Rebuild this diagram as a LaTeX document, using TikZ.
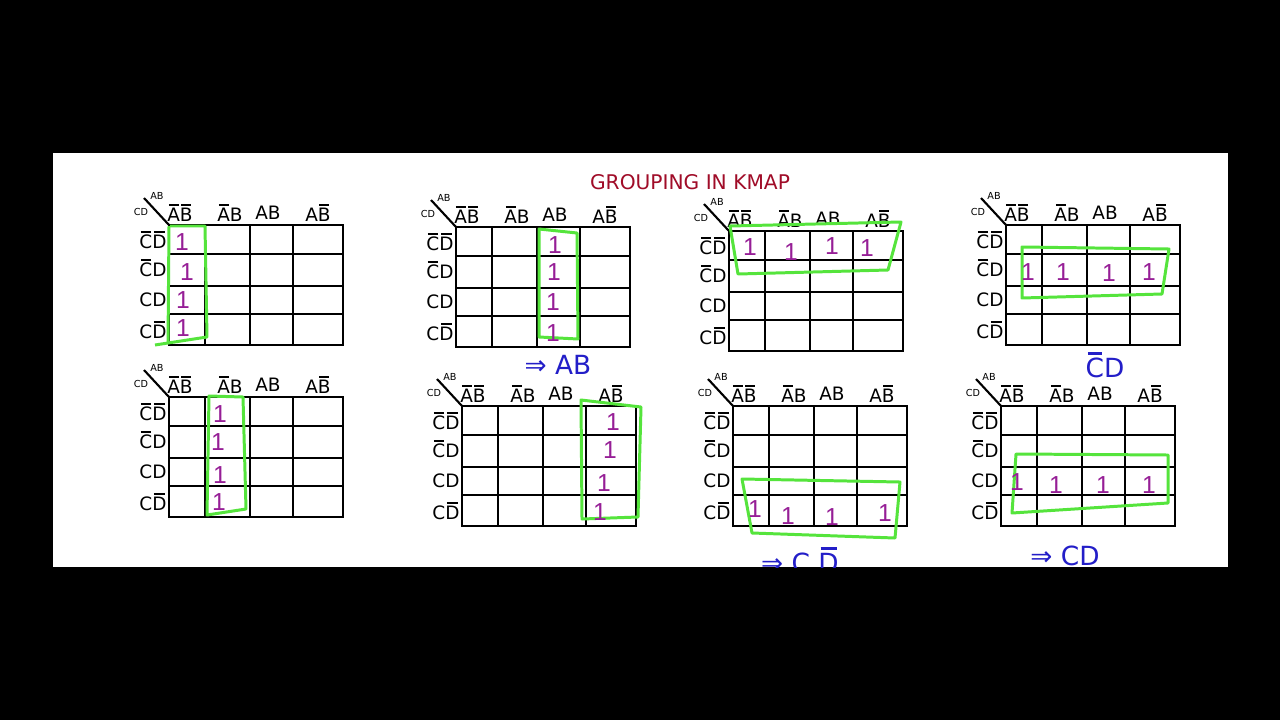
\documentclass[tikz,border=0pt]{standalone}
\usepackage{fontspec}
\setmainfont{DejaVu Sans}
\newfontfamily\handfont{Liberation Sans}
\definecolor{kred}{RGB}{160,12,40}
\definecolor{kgreen}{RGB}{85,228,60}
\definecolor{kpurple}{RGB}{150,30,150}
\definecolor{kblue}{RGB}{35,30,200}
% letter with a bar over it
\newcommand\nt[1]{\setbox0\hbox{#1}\rlap{\kern0.08em\rule[\dimexpr\ht0+0.12em\relax]{\dimexpr\wd0-0.16em\relax}{0.1em}}\box0}
\tikzset{
  kgrid/.style={line width=1.2pt},
  grp/.style={draw=kgreen, line width=1.7pt, line join=round},
  one/.style={text=kpurple, font=\handfont\fontsize{14}{14}\selectfont, inner sep=0pt},
  hdr/.style={font=\fontsize{10.5}{12}\selectfont, inner sep=0pt},
  corner/.style={font=\fontsize{5.5}{6}\selectfont, inner sep=0pt},
  note/.style={text=kblue, font=\fontsize{15}{16}\selectfont, inner sep=0pt}
}
\begin{document}
\begin{tikzpicture}[x=0.02cm,y=-0.02cm]
\fill[black] (0,0) rectangle (1280,720);
\fill[white] (53,153) rectangle (1228,567);
\useasboundingbox (0,0) rectangle (1280,720);
\node[text=kred, font=\fontsize{11.5}{12}\selectfont] (title) at (690,182) {GROUPING IN KMAP};

%the eight maps
\foreach \m/\x/\y in {1/169/225, 2/456/227, 3/729/231, 4/1006/225, 5/169/397, 6/462/406, 7/733/406, 8/1001/406}{
  \begin{scope}[shift={(\x,\y)}]
    \draw[kgrid] (0,0) rectangle (174,120);
    \foreach \c in {36,81,124} \draw[kgrid] (\c,0) -- (\c,120);
    \foreach \r in {29,61,89} \draw[kgrid] (0,\r) -- (174,\r);
    \node[corner] (ab\m) at (-12,-29) {AB};
    \node[corner] (cd\m) at (-28,-13) {CD};
    \coordinate (k\m) at (0,0);
    \draw[kgrid] (-25,-27) -- (k\m);
    %columns
    \node[hdr] (c\m a) at (11,-12) {\nt{A}\nt{B}};
    \node[hdr] (c\m b) at (61,-12) {\nt{A}B};
    \node[hdr] (c\m c) at (99,-12) {AB};
    \node[hdr] (c\m d) at (149,-12) {A\nt{B}};
    %rows
    \node[hdr] (r\m a) at (-16,15) {\nt{C}\nt{D}};
    \node[hdr] (r\m b) at (-16,43) {\nt{C}D};
    \node[hdr] (r\m c) at (-16,75) {CD};
    \node[hdr] (r\m d) at (-16,105) {C\nt{D}};
  \end{scope}
}

\begin{scope}
\clip (53,153) rectangle (1228,567);
%map 1
\draw[grp] (170,226) -- (205,226) -- (207,337) -- (155,345);
\draw[grp] (169,226) -- (168,344);
\node[one] (o1a) at (182,242) {1}; \node[one] (o1b) at (187,272) {1};
\node[one] (o1c) at (183,300) {1}; \node[one] (o1d) at (183,328) {1};
%map 2
\draw[grp] (539,229) -- (577,233) -- (578,339) -- (539,337) -- cycle;
\node[one] (o2a) at (555,245) {1}; \node[one] (o2b) at (554,272) {1};
\node[one] (o2c) at (553,302) {1}; \node[one] (o2d) at (553,333) {1};
\node[note] (n2) at (558,365) {⇒ AB};
%map 3
\draw[grp] (730,226) -- (901,222) -- (888,270) -- (738,274) -- cycle;
\node[one] (o3a) at (750,247) {1}; \node[one] (o3b) at (791,252) {1};
\node[one] (o3c) at (832,246) {1}; \node[one] (o3d) at (867,248) {1};
%map 4
\draw[grp] (1022,247) -- (1169,249) -- (1162,294) -- (1022,298) -- cycle;
\node[one] (o4a) at (1028,272) {1}; \node[one] (o4b) at (1063,272) {1};
\node[one] (o4c) at (1109,273) {1}; \node[one] (o4d) at (1149,272) {1};
\node[note] (n4) at (1105,365) {\nt{C} D};
%map 5
\draw[grp] (209,396) -- (243,397) -- (246,509) -- (207,515) -- cycle;
\node[one] (o5a) at (220,414) {1}; \node[one] (o5b) at (218,442) {1};
\node[one] (o5c) at (220,475) {1}; \node[one] (o5d) at (219,502) {1};
%map 6
\draw[grp] (581,400) -- (641,407) -- (638,517) -- (582,519) -- cycle;
\node[one] (o6a) at (613,422) {1}; \node[one] (o6b) at (610,450) {1};
\node[one] (o6c) at (604,483) {1}; \node[one] (o6d) at (600,512) {1};
%map 7
\draw[grp] (742,479) -- (900,482) -- (895,538) -- (752,533) -- cycle;
\node[one] (o7a) at (755,509) {1}; \node[one] (o7b) at (788,516) {1};
\node[one] (o7c) at (832,517) {1}; \node[one] (o7d) at (885,513) {1};
\node[note] (n7) at (800,560) {⇒ C \nt{D}};
%map 8
\draw[grp] (1016,454) -- (1168,455) -- (1168,503) -- (1012,513) -- cycle;
\node[one] (o8a) at (1017,482) {1}; \node[one] (o8b) at (1056,485) {1};
\node[one] (o8c) at (1103,485) {1}; \node[one] (o8d) at (1149,485) {1};
\node[note] (n8) at (1065,556) {⇒ CD};
\end{scope}
\end{tikzpicture}
\end{document}
